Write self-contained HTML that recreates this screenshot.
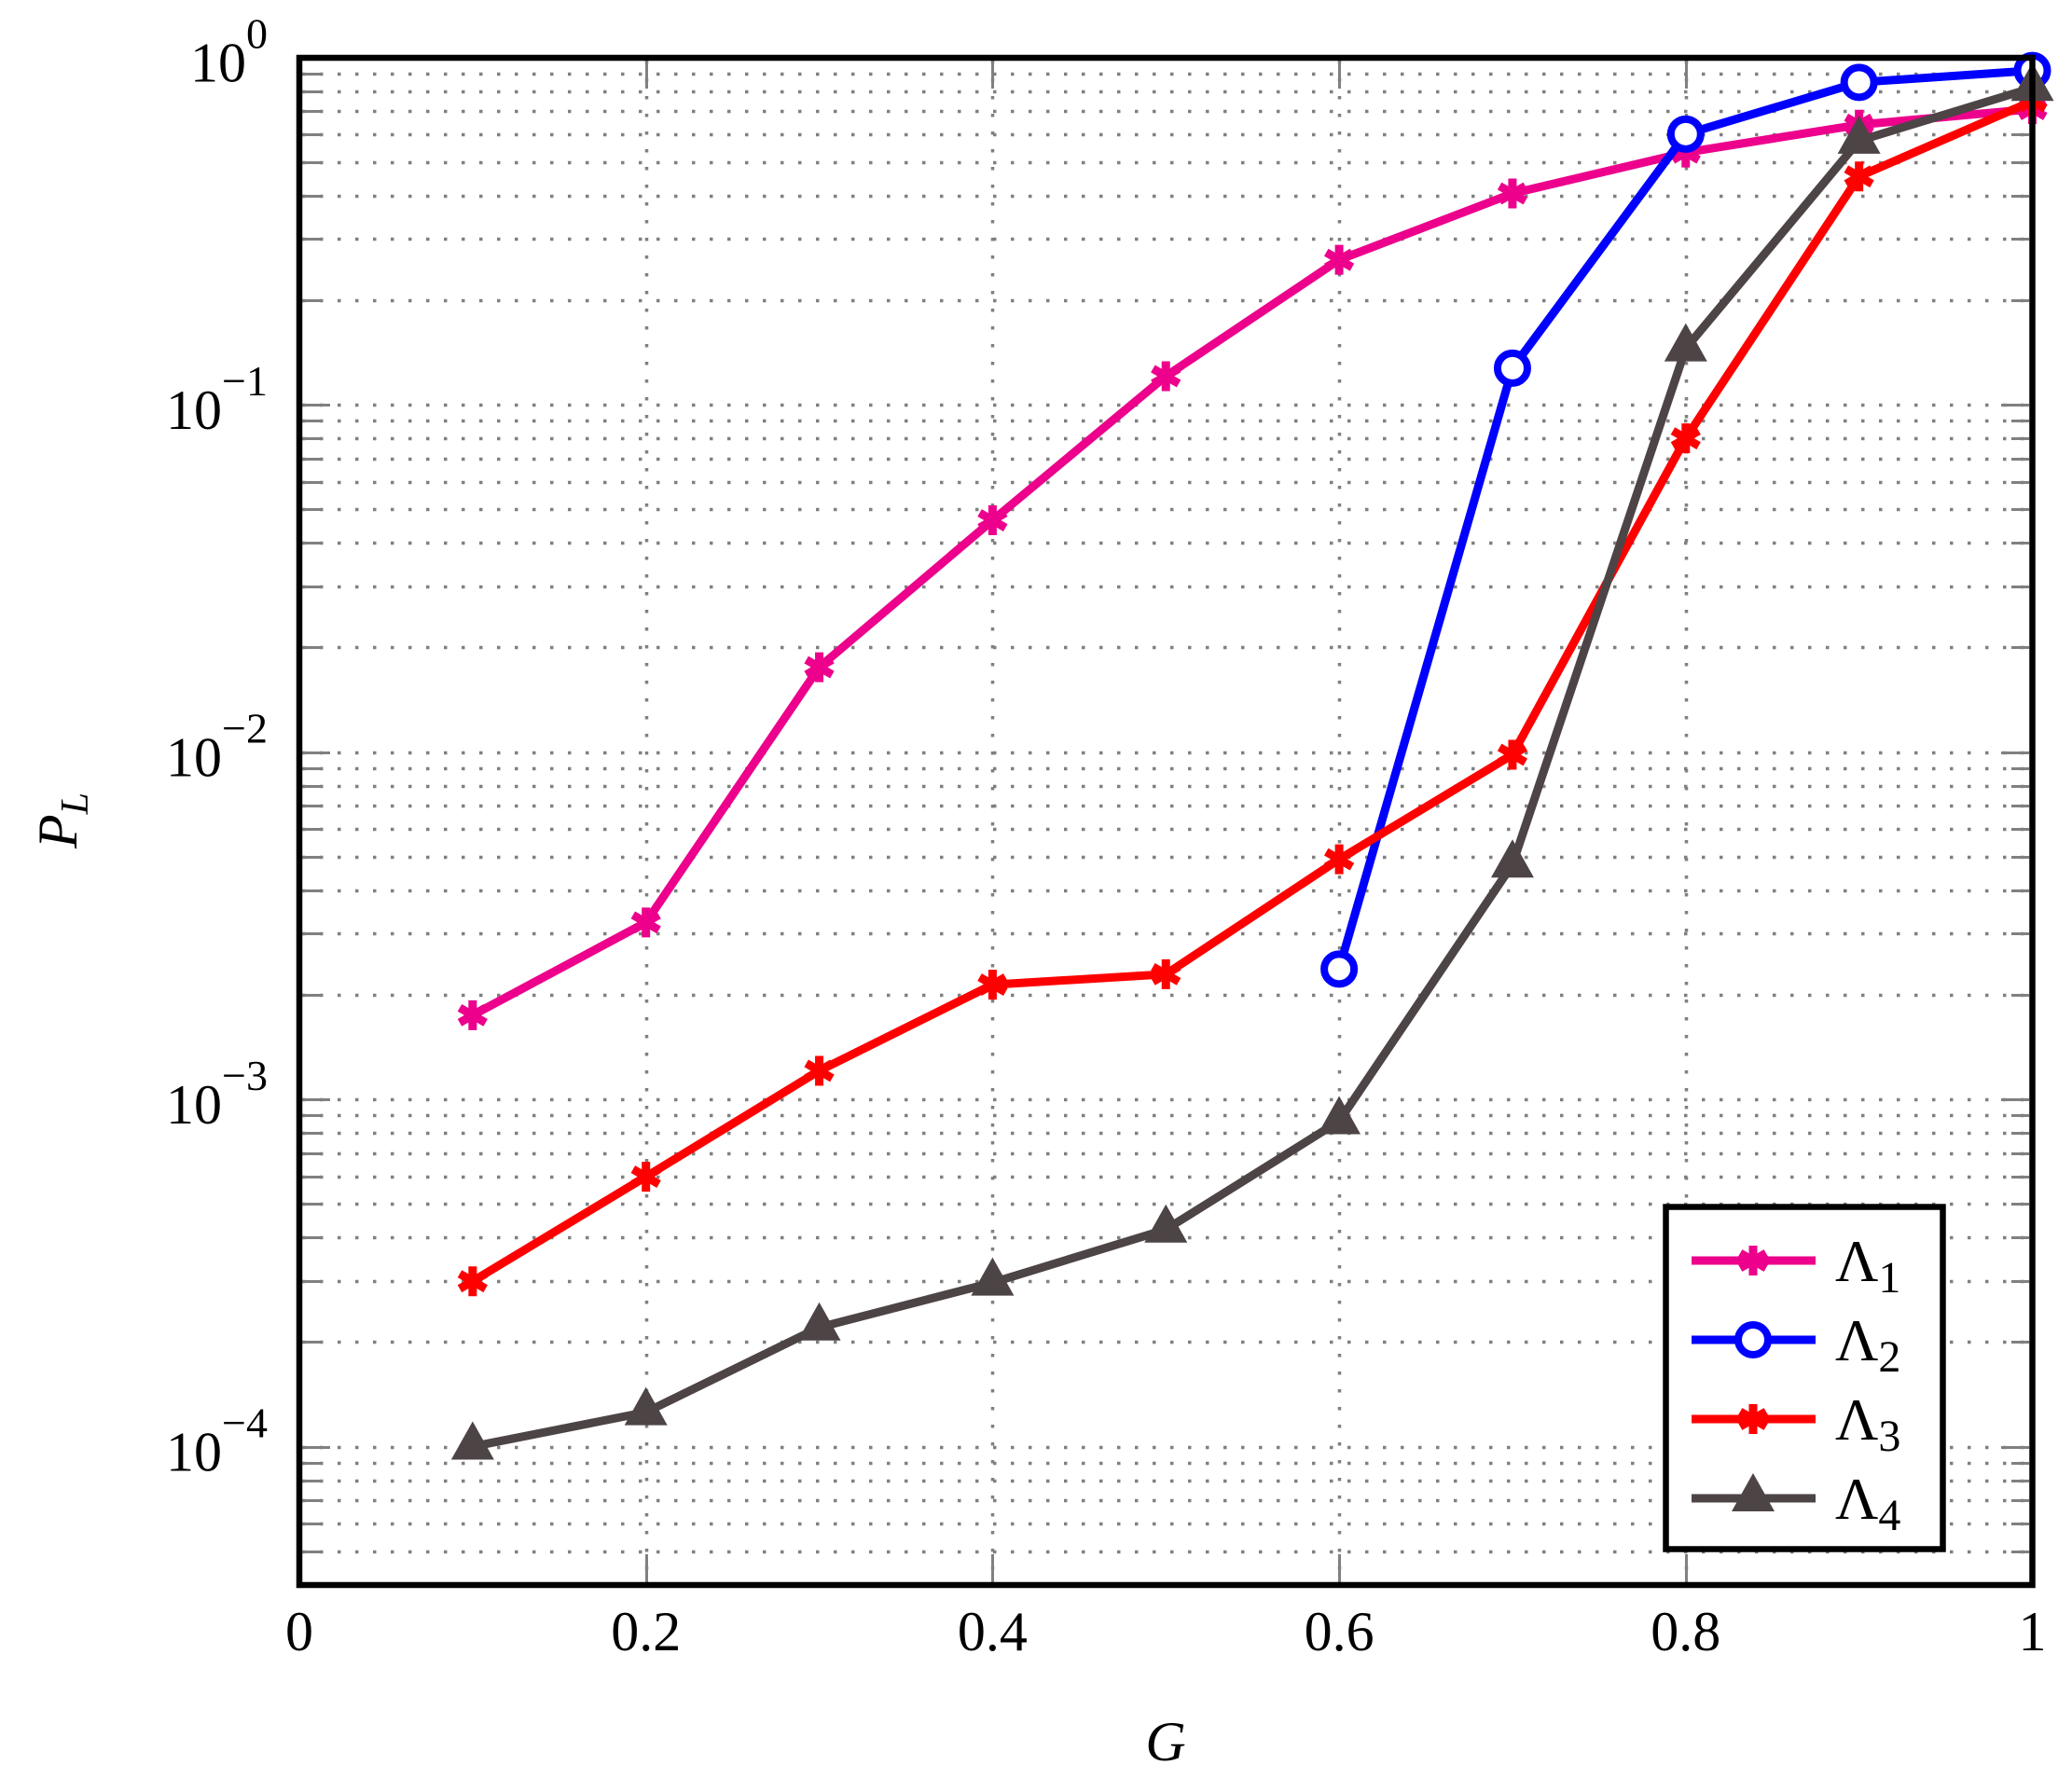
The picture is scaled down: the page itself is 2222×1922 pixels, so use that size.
<!DOCTYPE html>
<html><head><meta charset="utf-8"><style>
html,body{margin:0;padding:0;background:#fff;}
svg{display:block;}
text{font-family:"Liberation Serif","DejaVu Serif",serif;fill:#000;}
</style></head><body>
<svg id="s" width="2222" height="1922" viewBox="0 0 2222 1922" xmlns="http://www.w3.org/2000/svg">
<g id="grid"></g>
<g id="series"></g>
<rect x="321" y="62" width="1858.5" height="1638" fill="none" stroke="#000" stroke-width="6.5"/>
<g id="labels"></g>
<g id="legend">
<rect x="1786.5" y="1294.5" width="297" height="367" fill="#fff" stroke="#000" stroke-width="6.5"/>
</g>
<text x="1250" y="1888" font-size="60" font-style="italic" text-anchor="middle">G</text>
<text transform="translate(82,880) rotate(-90)" font-size="60" text-anchor="middle"><tspan font-style="italic">P</tspan><tspan font-size="42" font-style="italic" dy="12">L</tspan></text>
</svg>
<script>
const NS="http://www.w3.org/2000/svg";
const X0=321,XW=1858.5,Y0=61.5,D=372.5;
const X=g=>X0+g*XW, Y=l=>Y0-l*D;
function el(p,t,a,txt){const e=document.createElementNS(NS,t);for(const k in a)e.setAttribute(k,a[k]);if(txt!==undefined)e.textContent=txt;p.appendChild(e);return e;}
const grid=document.getElementById('grid');
for(let d=-5;d<=0;d++){for(let m=1;m<=9;m++){const l=d+Math.log10(m);if(l>0.0001||l<-4.4)continue;const y=Math.round(Y(l))+0.5;
el(grid,'line',{x1:324,x2:2176,y1:y,y2:y,stroke:'#808080','stroke-width':3.5,'stroke-dasharray':'3.5 15.5'});
const tl=m==1?30:19;
el(grid,'line',{x1:324,x2:324+tl,y1:y,y2:y,stroke:'#808080','stroke-width':3});
el(grid,'line',{x1:2176-tl,x2:2176,y1:y,y2:y,stroke:'#808080','stroke-width':3});}}
for(let i=1;i<5;i++){const x=Math.round(X(i*0.2))+0.5;
el(grid,'line',{x1:x,x2:x,y1:65,y2:1697,stroke:'#808080','stroke-width':3.5,'stroke-dasharray':'3.5 15.5'});
el(grid,'line',{x1:x,x2:x,y1:65,y2:95,stroke:'#808080','stroke-width':3});
el(grid,'line',{x1:x,x2:x,y1:1667,y2:1697,stroke:'#808080','stroke-width':3});}
const lab=document.getElementById('labels');
for(let d=0;d>=-4;d--){const y=Y(d)+26;const t=el(lab,'text',{x:287,y:y,'font-size':60,'text-anchor':'end'});
t.innerHTML='10<tspan font-size="46" dy="-36">'+(d==0?'0':'\u2212'+(-d))+'</tspan>';}
['0','0.2','0.4','0.6','0.8','1'].forEach((s,i)=>el(lab,'text',{x:X(i*0.2),y:1770,'font-size':60,'text-anchor':'middle'},s));
const G=[0.1,0.2,0.3,0.4,0.5,0.6,0.7,0.8,0.9,1];
const S=[
{c:'#ec008c',m:'ast',g:G,v:[-2.758,-2.491,-1.756,-1.333,-0.918,-0.583,-0.392,-0.274,-0.194,-0.149]},
{c:'#0000ff',m:'circ',g:[0.6,0.7,0.8,0.9,1],v:[-2.625,-0.895,-0.221,-0.072,-0.038]},
{c:'#ff0000',m:'ast',g:G,v:[-3.524,-3.223,-2.918,-2.670,-2.640,-2.309,-2.008,-1.097,-0.343,-0.126]},
{c:'#4d4446',m:'tri',g:G,v:[-4,-3.901,-3.657,-3.528,-3.375,-3.063,-2.324,-0.838,-0.24,-0.088]}];
function marker(p,m,x,y,c){
if(m=='ast'){for(let a=0;a<3;a++){const an=Math.PI/2+a*Math.PI/3;const dx=16*Math.cos(an),dy=16*Math.sin(an);
el(p,'line',{x1:x-dx,y1:y-dy,x2:x+dx,y2:y+dy,stroke:c,'stroke-width':9});}}
else if(m=='circ'){el(p,'circle',{cx:x,cy:y,r:16,fill:'#fff',stroke:c,'stroke-width':8});}
else{el(p,'polygon',{points:`${x},${y-27} ${x-23},${y+14} ${x+23},${y+14}`,fill:c});}}
const ser=document.getElementById('series');
S.forEach(s=>{const pts=s.g.map((g,i)=>X(g)+','+Y(s.v[i])).join(' ');
el(ser,'polyline',{points:pts,fill:'none',stroke:s.c,'stroke-width':9,'stroke-linejoin':'round'});
s.g.forEach((g,i)=>marker(ser,s.m,X(g),Y(s.v[i]),s.c));});
const leg=document.getElementById('legend');
[1352,1437,1522,1607].forEach((y,i)=>{const s=S[i];
el(leg,'line',{x1:1814,x2:1947,y1:y,y2:y,stroke:s.c,'stroke-width':9});
marker(leg,s.m,1880,y,s.c);
const t=el(leg,'text',{x:1968,y:y+22,'font-size':64});
t.innerHTML='\u039B<tspan font-size="48" dy="12">'+(i+1)+'</tspan>';});
</script>
</body></html>
